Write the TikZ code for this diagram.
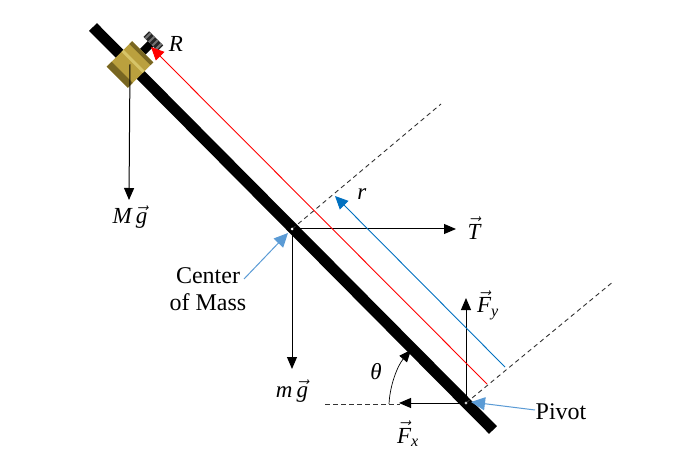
\documentclass[tikz,border=0pt]{standalone}
\usepackage{amsmath}
\usepackage{fontspec}
\setmainfont{Liberation Serif}
\usetikzlibrary{arrows.meta}
\definecolor{gold}{RGB}{186,160,62}
\definecolor{golddark}{RGB}{120,102,34}
\definecolor{goldlight}{RGB}{214,196,104}
\definecolor{leadblue}{RGB}{91,155,213}
\definecolor{rblue}{RGB}{0,112,192}
\newcommand{\mi}[1]{\textit{#1}}
\tikzset{
	force/.style={draw=black, line width=1pt, -{Triangle[length=12pt,width=10pt]}},
	lead/.style={draw=leadblue, line width=1pt, -{Triangle[length=14pt,width=13pt]}},
	guide/.style={draw=black!80, line width=0.9pt, dash pattern=on 4.5pt off 3.5pt},
	mathlabel/.style={font=\fontsize{23}{24}\selectfont, inner sep=0pt},
	textlabel/.style={font=\fontsize{24}{27}\selectfont, inner sep=0pt, align=center}
}
\begin{document}
\begin{tikzpicture}[x=1pt,y=-1pt]
	\useasboundingbox (0,0) rectangle (683,457);
	%%%%% POINTS %%%%%
	\coordinate (rodtop) at (93,27);
	\coordinate (rodend) at (493,430);
	\coordinate (com) at (292,229);
	\coordinate (pivot) at (466,403);
	\coordinate (mass) at (130,64.5);
	
	%%%%% ROD %%%%%
	\draw[line width=11pt] (rodtop) -- (rodend);
	
	%%%%% MASS %%%%%
	\begin{scope}[shift={(mass)},rotate=-45]
		\fill[black] (-4,-29) rectangle (4,-18);
		\fill[black!85] (-10,-37) rectangle (10,-29);
		\foreach \i in {0,1,2,3} {\fill[black!55] (-8.5+\i*5,-37) rectangle (-6.5+\i*5,-29);}
		\fill[gold] (-15,-18) rectangle (15,18);
		\fill[golddark] (-15,-18) rectangle (15,-14);
		\fill[golddark] (-15,11) rectangle (15,18);
		\fill[goldlight] (-15,-6) rectangle (15,-3);
	\end{scope}
	
	%%%%% GUIDES %%%%%
	\draw[guide] (com) -- (441,104);
	\draw[guide] (pivot) -- (614,281);
	\draw[guide] (325,404) -- (400,404);
	
	%%%%% FORCES %%%%%
	\draw[force] (mass) -- (129,200);
	\draw[force] (com) -- (292,369);
	\draw[force] (com) -- (456,229);
	\draw[force] (pivot) -- (466,298);
	\draw[force] (pivot) -- (399,403);
	
	%%%%% LENGTHS %%%%%
	\draw[draw=red, line width=0.9pt, -{Triangle[length=13pt,width=12pt]}] (487,384) -- (151,47);
	\draw[draw=rblue, line width=0.9pt, -{Triangle[length=13pt,width=12pt]}] (505,367) -- (335,196);
	\draw[line width=0.7pt, -{Triangle[length=12pt,width=10pt]}] (389,404) .. controls (390,384) and (398,365) .. (411,350);
	
	%%%%% MARKS %%%%%
	\fill[white] (com) circle (1.5);
	\draw[black, fill=white, line width=0.5pt] (pivot) circle (1.8);
	
	%%%%% LABELS %%%%%
	\node[mathlabel] (labelR) at (176,44) {\mi{R}};
	\node[mathlabel] (labelMg) at (130,217) {$\mi{M}\,\vec{\mi{g}}$};
	\node[mathlabel] (labelr) at (362,194) {\mi{r}};
	\node[mathlabel] (labelT) at (474,228) {$\vec{\mi{T}}$};
	\node[mathlabel] (labelFy) at (488,305) {$\vec{\mi{F}}_{\mi{y}}$};
	\node[mathlabel] (labelmg) at (292,391) {$\mi{m}\,\vec{\mi{g}}$};
	\node[mathlabel] (labelFx) at (408,434) {$\vec{\mi{F}}_{\mi{x}}$};
	\node[mathlabel] (labeltheta) at (376,372) {\mi{θ}};
	\node[textlabel] (labelcom) at (208,289) {Center\\of Mass};
	\node[textlabel] (labelpivot) at (561,412) {Pivot};
	
	%%%%% LEADERS %%%%%
	\draw[lead] (244,279) -- (288,233);
	\draw[lead] (535,410) -- (471,402);
\end{tikzpicture}
\end{document}
